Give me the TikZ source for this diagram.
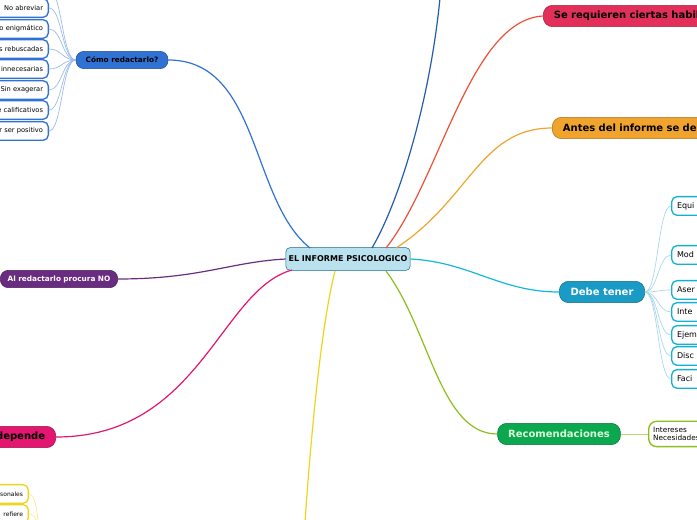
\documentclass[tikz,border=0pt]{standalone}
\usepackage{fontspec}
\setmainfont{DejaVu Sans}
\begin{document}
\begin{tikzpicture}[x=0.75pt,y=-0.75pt,
  leaf/.style={draw=#1,line width=1pt,fill=white,rounded corners=4pt,minimum height=14pt,inner xsep=4pt,font=\fontsize{5}{6}\selectfont},
  main/.style={draw=#1!70!black,fill=#1,rounded corners=7pt,inner xsep=8pt,minimum height=16pt,font=\bfseries\fontsize{7.5}{9}\selectfont},
  sub/.style={draw=#1!70!black,fill=#1,rounded corners=6pt,minimum height=13pt,font=\bfseries\fontsize{5.5}{7}\selectfont},
  link/.style={line width=0.9pt}]
\definecolor{cblue}{HTML}{2F72D4}
\definecolor{cpurple}{HTML}{6A2C80}
\definecolor{cpink}{HTML}{E3176F}
\definecolor{cred}{HTML}{E2305B}
\definecolor{corange}{HTML}{F0A42E}
\definecolor{cteal}{HTML}{1A9BC6}
\definecolor{cgreen}{HTML}{0CA84F}
\definecolor{lgreen}{HTML}{8CBF1A}
\definecolor{cyell}{HTML}{EDD51C}
\useasboundingbox (0,0) rectangle (697,520);
\clip (0,0) rectangle (697,520);
% center
\node[draw=cteal!70!black,fill=cteal!30,rounded corners=3pt,minimum width=92pt,minimum height=17pt,inner xsep=2pt,font=\rmfamily\bfseries\fontsize{6}{7}\selectfont] (c) at (348,259) {EL INFORME PSICOLOGICO};
% main branches
\node[sub=cblue,minimum width=69pt] (como) at (122,60) {Cómo redactarlo?};
\node[sub=cpurple,text=white,inner xsep=4pt,text width=80pt,align=center] (al) at (59,279) {Al redactarlo procura NO};
\node[main=cpink,anchor=east,text width=50pt,align=right] (dep) at (56,437) {depende};
\node[main=cred,anchor=west,text width=140pt,align=left] (se) at (543,16) {Se requieren ciertas habilidades};
\node[main=corange,anchor=west,text width=140pt,align=left] (antes) at (552,128) {Antes del informe se debe};
\node[main=cteal,text=white,minimum width=64pt] (debe) at (602,292) {Debe tener};
\node[main=cgreen,text=green!15,minimum width=92pt] (rec) at (559,434) {Recomendaciones};
\node[draw=lgreen,line width=1pt,fill=white,rounded corners=6pt,anchor=west,minimum height=19pt,text width=55pt,align=left,font=\fontsize{5.5}{6.5}\selectfont] (int) at (648,434) {Intereses\\Necesidades};
\coordinate (top) at (440,-2);
\coordinate (bot) at (305,522);
% connectors
\draw[link,cblue] (como.east) .. controls (260,60) and (250,200) .. (310,248);
\draw[link,cblue!80!black] (372,248) .. controls (400,200) and (430,100) .. (top);
\draw[link,cred!60!orange] (386,248) .. controls (440,180) and (470,20) .. (se.west);
\draw[link,corange] (396,248) .. controls (470,200) and (480,128) .. (antes.west);
\draw[link,cteal!70!cyan] (c.east) .. controls (470,262) and (500,292) .. (debe.west);
\draw[link,lgreen] (386,271) .. controls (430,330) and (440,434) .. (rec.west);
\draw[line width=0.6pt,lgreen!60] (rec.east) -- (int.west);
\draw[link,cpurple] (al.east) .. controls (200,279) and (230,262) .. (c.west);
\draw[link,cpink] (dep.east) .. controls (200,437) and (220,290) .. (292,270);
\draw[link,cyell] (335,271) .. controls (320,330) and (310,450) .. (bot);
% left leaves
\foreach \y/\t/\n in {8/No abreviar/l1,29/o enigmático/l2,49/s rebuscadas/l3,69/innecesarias/l4,90/Sin exagerar/l5,110/e calificativos/l6,131/r ser positivo/l7}{
  \node[leaf=cblue,anchor=east,align=right,text width=60pt] (\n) at (49,\y) {\t};
  \draw[line width=0.5pt,cblue!50] (\n.east) .. controls (62,\y) and (62,60) .. (como.west);
}
\draw[line width=0.5pt,cblue!50] (49,-10) .. controls (62,-10) and (62,60) .. (como.west);
% right leaves
\foreach \y/\t/\n in {206/Equi/r1,255/Mod/r2,290/Aser/r3,312/Inte/r4,335/Ejem/r5,356/Disc/r6,379/Faci/r7}{
  \node[leaf=cteal!80!cyan,anchor=west,align=left,text width=40pt,font=\fontsize{6}{7}\selectfont] (\n) at (671,\y) {\t};
  \draw[line width=0.5pt,cteal!40] (debe.east) .. controls (658,292) and (658,\y) .. (\n.west);
}
% bottom-left leaves
\foreach \y/\t/\n in {494/sonales/b1,514/refiere/b2}{
  \node[leaf=cyell,anchor=east,align=right,text width=40pt,font=\fontsize{4.5}{5}\selectfont] (\n) at (29,\y) {\t};
  \draw[line width=0.5pt,cyell!50] (\n.east) .. controls (38,\y) and (38,530) .. (40,540);
}
\end{tikzpicture}
\end{document}
